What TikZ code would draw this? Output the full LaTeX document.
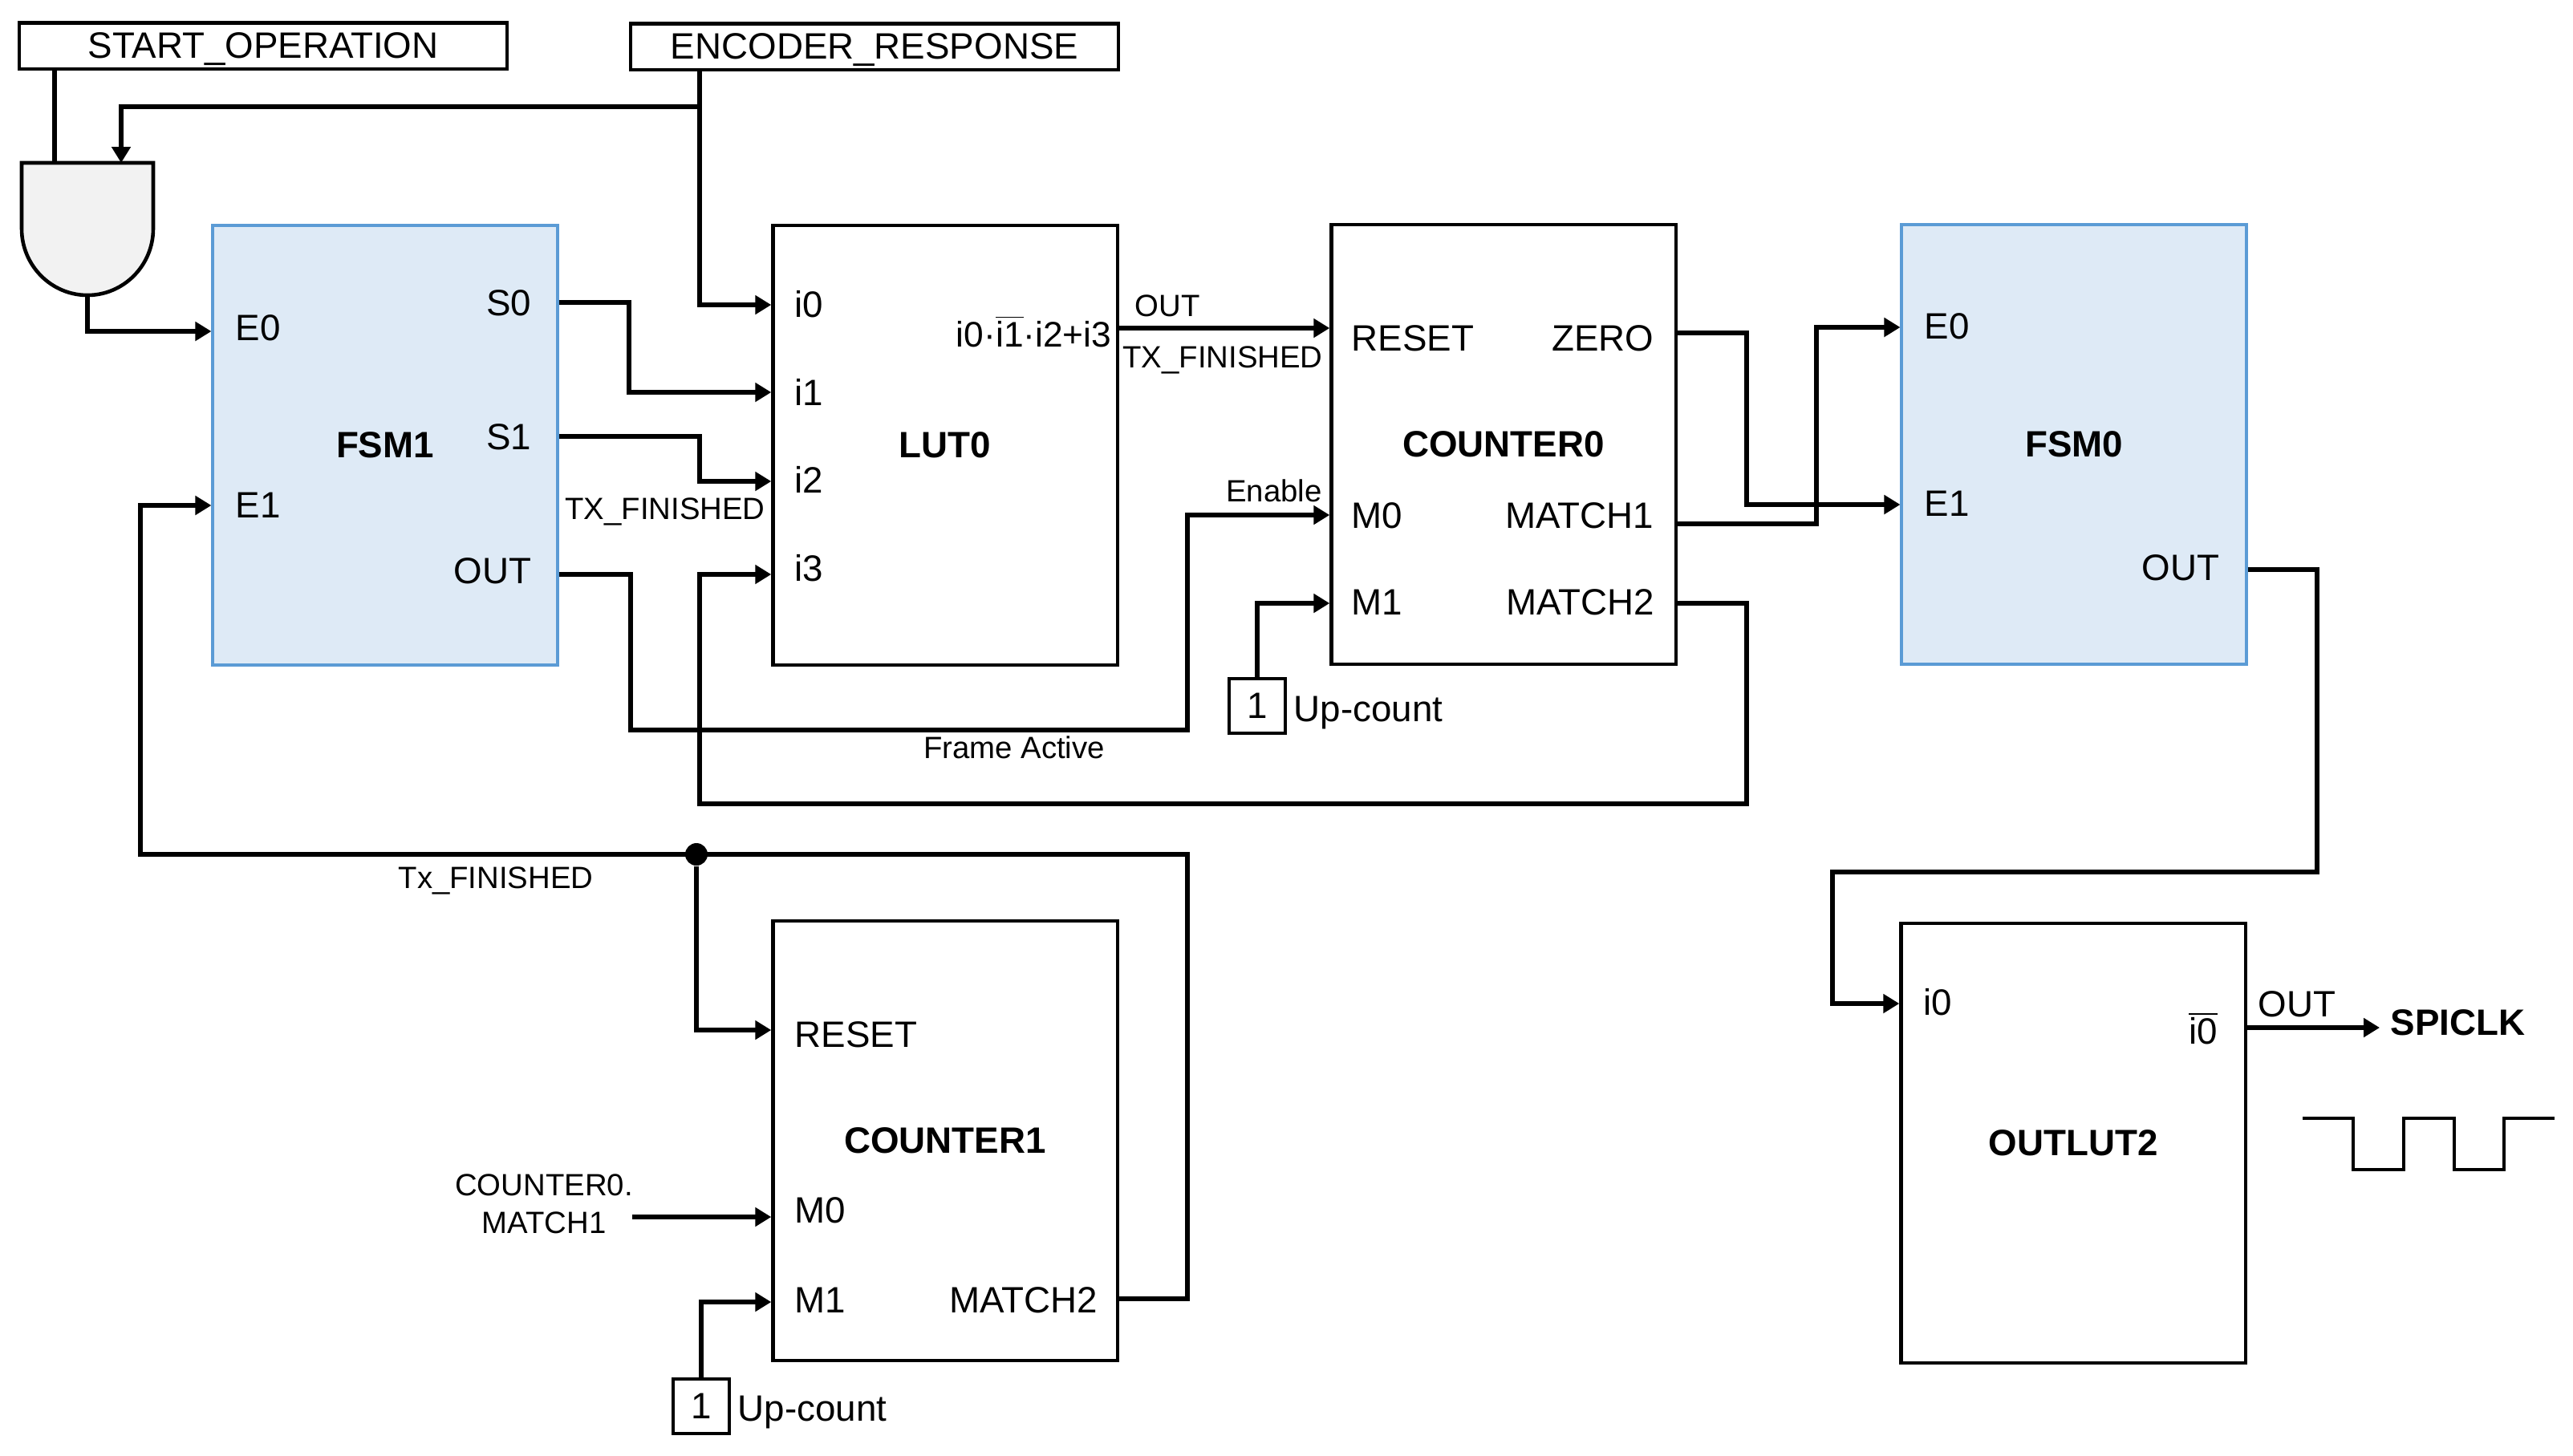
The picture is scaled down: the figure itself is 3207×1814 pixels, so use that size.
\documentclass[tikz,border=0pt]{standalone}
\usepackage{fontspec}
\setmainfont{Liberation Sans}
\usetikzlibrary{arrows.meta}
\definecolor{fsmfill}{HTML}{DEEAF6}
\definecolor{fsmline}{HTML}{5B9BD5}
\definecolor{gatefill}{HTML}{F2F2F2}
\tikzset{
  every node/.style={font=\fontsize{13}{15}\selectfont},
  block/.style={draw, line width=1.2pt, minimum width=4.29cm, minimum height=5.47cm, inner sep=0pt, font=\fontsize{13}{15}\selectfont\bfseries},
  fsmblock/.style={block, draw=fsmline, fill=fsmfill, line width=1.1pt},
  inbox/.style={draw, line width=1.15pt, minimum width=6.08cm, minimum height=0.57cm, inner sep=0pt, text depth=0pt},
  onebox/.style={draw, line width=0.9pt, minimum width=0.7cm, minimum height=0.68cm, inner sep=0pt},
  portw/.style={anchor=west, inner sep=0pt},
  porte/.style={anchor=east, inner sep=0pt},
  small/.style={inner sep=0pt, align=center, font=\fontsize{10.9}{13.3}\selectfont},
  wire/.style={line width=1.5pt},
  arrowwire/.style={wire, -{Triangle[length=0.2cm,width=0.23cm]}},
}

\begin{document}
\begin{tikzpicture}[x=0.01cm, y=-0.01cm]
    \useasboundingbox (0,0) rectangle (3207,1814);
    % Inputs
    \node[inbox] (start) at (328,57) {START\_OPERATION};
    \node[inbox] (encoder) at (1090,58) {ENCODER\_RESPONSE};
    % AND gate
    \draw[line width=1.3pt, fill=gatefill] (27,203) -- (191,203) -- (191,285)
        .. controls (191,331) and (154,368) .. (109,368)
        .. controls (64,368) and (27,331) .. (27,285) -- cycle;
    \coordinate (gateA) at (68,203);
    \coordinate (gateB) at (151,203);
    \coordinate (gateOut) at (109,368);
    % Blocks
    \node[fsmblock] (fsm1) at (480,555) {FSM1};
    \node[block] (lut0) at (1178,555) {LUT0};
    \node[block] (cnt0) at (1874,554) {COUNTER0};
    \node[fsmblock] (fsm0) at (2585,554) {FSM0};
    \node[block] (cnt1) at (1178,1422) {COUNTER1};
    \node[block] (outlut) at (2584,1425) {OUTLUT2};
    % FSM1 ports
    \node[portw] (fsm1E0) at (293,409) {E0};
    \node[portw] (fsm1E1) at (293,630) {E1};
    \node[porte] (fsm1S0) at (663,378) {S0};
    \node[porte] (fsm1S1) at (663,545) {S1};
    \node[porte] (fsm1O) at (663,712) {OUT};
    % LUT0 ports
    \node[portw] (lut0i0) at (990,379) {i0};
    \node[portw] (lut0i1) at (990,489) {i1};
    \node[portw] (lut0i2) at (990,598) {i2};
    \node[portw] (lut0i3) at (990,708) {i3};
    \node[porte, font=\fontsize{12.6}{15}\selectfont] (lut0O) at (1386,413) {i0·$\overline{\hbox{i1}}$·i2+i3};
    % COUNTER0 ports
    \node[portw] (cnt0R) at (1684,422) {RESET};
    \node[portw] (cnt0M0) at (1684,643) {M0};
    \node[portw] (cnt0M1) at (1684,751) {M1};
    \node[porte] (cnt0Z) at (2062,422) {ZERO};
    \node[porte] (cnt0Ma) at (2062,643) {MATCH1};
    \node[porte] (cnt0Mb) at (2063,751) {MATCH2};
    % FSM0 ports
    \node[portw] (fsm0E0) at (2398,407) {E0};
    \node[portw] (fsm0E1) at (2398,628) {E1};
    \node[porte] (fsm0O) at (2767,708) {OUT};
    % COUNTER1 ports
    \node[portw] (cnt1R) at (990,1290) {RESET};
    \node[portw] (cnt1M0) at (990,1509) {M0};
    \node[portw] (cnt1M1) at (990,1621) {M1};
    \node[porte] (cnt1Mb) at (1369,1621) {MATCH2};
    % OUTLUT2 ports
    \node[portw] (outi) at (2397,1249) {i0};
    \node (outn) at (2746,1282) {$\overline{\hbox{i0}}$};
    \node (outO) at (2863,1252) {OUT};
    \node[portw, font=\fontsize{13}{15}\selectfont\bfseries] (spiclk) at (2979,1275) {SPICLK};
    \coordinate (spiIn) at (2966,1281);
    % Constant inputs
    \node[onebox] (upA) at (1567,880) {1};
    \node[portw] (upAtext) at (1612,888) {Up-count};
    \node[onebox] (upB) at (874,1753) {1};
    \node[portw] (upBtext) at (919,1760) {Up-count};
    % Signal names
    \node[small] (txA) at (829,638) {TX\_FINISHED};
    \node[small] (lutOut) at (1455,381) {OUT};
    \node[small] (txB) at (1524,449) {TX\_FINISHED};
    \node[small] (enable) at (1588,612) {Enable};
    \node[small] (frame) at (1264,932) {Frame Active};
    \node[small] (txC) at (618,1098) {Tx\_FINISHED};
    \node[small] (match) at (678,1501) {COUNTER0.\\MATCH1};
    % Junction
    \node[circle, fill, inner sep=0pt, minimum size=0.28cm] (dot) at (868,1065) {};
    % Wires from the inputs
    \draw[wire] (start.south -| gateA) -- (gateA);
    \draw[arrowwire] (encoder.south -| 872,0) -- (872,380) -- (lut0.west |- 0,380);
    \draw[arrowwire] (872,133) -- (151,133) -- (gateB);
    \draw[arrowwire] (gateOut) -- (109,413) -- (fsm1.west |- 0,413);
    % FSM1 to LUT0 and COUNTER0
    \draw[arrowwire] (fsm1.east |- 0,377) -- (784,377) -- (784,489) -- (lut0.west |- 0,489);
    \draw[arrowwire] (fsm1.east |- 0,544) -- (872,544) -- (872,600) -- (lut0.west |- 0,600);
    \draw[arrowwire] (fsm1.east |- 0,716) -- (786,716) -- (786,910) -- (1480,910) -- (1480,642) -- (cnt0.west |- 0,642);
    % LUT0 to COUNTER0
    \draw[arrowwire] (lut0.east |- 0,409) -- (cnt0.west |- 0,409);
    \draw[arrowwire] (upA.north) -- (1567,752) -- (cnt0.west |- 0,752);
    % COUNTER0 outputs
    \draw[arrowwire] (cnt0.east |- 0,752) -- (2177,752) -- (2177,1002) -- (872,1002) -- (872,716) -- (lut0.west |- 0,716);
    \draw[arrowwire] (cnt0.east |- 0,415) -- (2177,415) -- (2177,629) -- (fsm0.west |- 0,629);
    \draw[arrowwire] (cnt0.east |- 0,653) -- (2264,653) -- (2264,408) -- (fsm0.west |- 0,408);
    % FSM0 to OUTLUT2
    \draw[arrowwire] (fsm0.east |- 0,710) -- (2888,710) -- (2888,1087) -- (2284,1087) -- (2284,1251) -- (outlut.west |- 0,1251);
    \draw[arrowwire] (outlut.east |- 0,1281) -- (spiIn);
    % COUNTER1
    \draw[arrowwire] (cnt1.east |- 0,1619) -- (1480,1619) -- (1480,1065) -- (175,1065) -- (175,630) -- (fsm1.west |- 0,630);
    \draw[arrowwire] (dot) -- (868,1284) -- (cnt1.west |- 0,1284);
    \draw[arrowwire] (788,1517) -- (cnt1.west |- 0,1517);
    \draw[arrowwire] (upB.north) -- (874,1623) -- (cnt1.west |- 0,1623);
    % SPICLK waveform
    \draw[line width=1pt] (2870,1394) -- (2933,1394) -- (2933,1458) -- (2996,1458) -- (2996,1394) -- (3059,1394)
        -- (3059,1458) -- (3121,1458) -- (3121,1394) -- (3184,1394);
\end{tikzpicture}
\end{document}
